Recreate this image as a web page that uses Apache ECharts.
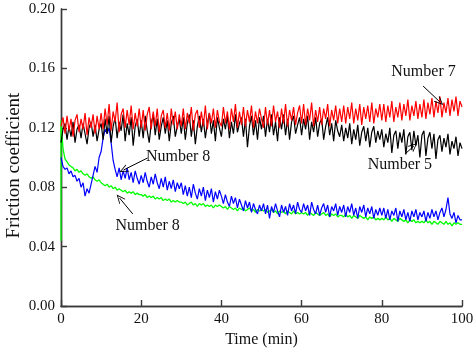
<!DOCTYPE html>
<html>
<head>
<meta charset="utf-8">
<script src="https://cdn.jsdelivr.net/npm/echarts@6/dist/echarts.min.js"></script>
<style>
html,body{margin:0;padding:0;background:#fff;}
#chart{width:474px;height:353px;}
</style>
</head>
<body>
<div id="chart"></div>
<script>
// Sampling step of the recorded curves (minutes)
const timeStep = 0.5;
const xTicks = [0, 20, 40, 60, 80, 100];
const yTicks = [0.00, 0.04, 0.08, 0.12, 0.16, 0.20];

// Number 7 (red)
const number7 = [
0.121,0.127,0.116,0.128,0.118,0.126,0.114,0.125,0.129,0.117,0.126,0.119,0.130,0.115,0.127,0.120,0.129,0.116,0.128,0.119,
0.130,0.119,0.133,0.122,0.136,0.118,0.131,0.124,0.137,0.117,0.129,0.133,0.120,0.132,0.122,0.135,0.119,0.130,0.121,0.133,
0.120,0.132,0.118,0.129,0.134,0.119,0.131,0.121,0.133,0.117,0.128,0.132,0.120,0.130,0.118,0.133,0.122,0.131,0.119,0.129,
0.121,0.133,0.119,0.130,0.123,0.134,0.118,0.129,0.132,0.120,0.131,0.121,0.135,0.119,0.130,0.123,0.133,0.120,0.132,0.124,
0.121,0.134,0.123,0.131,0.119,0.133,0.124,0.136,0.120,0.131,0.122,0.134,0.121,0.132,0.124,0.135,0.120,0.131,0.123,0.133,
0.126,0.120,0.134,0.122,0.132,0.121,0.135,0.124,0.131,0.120,0.133,0.123,0.136,0.121,0.132,0.125,0.134,0.122,0.130,0.135,
0.123,0.136,0.122,0.133,0.125,0.137,0.121,0.132,0.124,0.134,0.122,0.133,0.126,0.136,0.121,0.132,0.125,0.135,0.123,0.133,
0.124,0.135,0.123,0.134,0.126,0.137,0.123,0.133,0.125,0.136,0.122,0.134,0.126,0.135,0.124,0.137,0.123,0.133,0.127,0.136,
0.125,0.136,0.124,0.135,0.127,0.138,0.124,0.134,0.127,0.137,0.125,0.136,0.128,0.139,0.125,0.135,0.128,0.138,0.126,0.136,
0.127,0.139,0.126,0.137,0.129,0.140,0.127,0.138,0.130,0.141,0.127,0.137,0.130,0.140,0.128,0.139,0.131,0.141,0.128,0.138,
0.134];

// Number 5 (black)
const number5 = [
0.110,0.119,0.123,0.112,0.121,0.114,0.124,0.110,0.119,0.122,0.113,0.123,0.116,0.109,0.120,0.124,0.114,0.122,0.111,0.119,
0.123,0.112,0.126,0.116,0.128,0.110,0.121,0.127,0.113,0.124,0.118,0.129,0.111,0.123,0.115,0.127,0.108,0.121,0.126,0.114,
0.125,0.113,0.128,0.118,0.110,0.123,0.129,0.115,0.126,0.112,0.121,0.127,0.116,0.125,0.111,0.123,0.128,0.114,0.121,0.126,
0.116,0.127,0.112,0.123,0.129,0.114,0.125,0.109,0.121,0.128,0.117,0.126,0.113,0.123,0.130,0.116,0.125,0.111,0.127,0.120,
0.114,0.126,0.119,0.128,0.113,0.124,0.116,0.129,0.117,0.123,0.127,0.114,0.126,0.107,0.121,0.128,0.115,0.125,0.112,0.127,
0.119,0.128,0.114,0.126,0.117,0.129,0.115,0.124,0.111,0.127,0.119,0.129,0.115,0.126,0.112,0.124,0.128,0.116,0.122,0.127,
0.115,0.126,0.119,0.128,0.112,0.124,0.117,0.127,0.114,0.123,0.126,0.112,0.121,0.127,0.115,0.123,0.111,0.125,0.118,0.114,
0.122,0.111,0.120,0.113,0.123,0.109,0.119,0.112,0.122,0.108,0.117,0.121,0.111,0.120,0.107,0.117,0.121,0.110,0.118,0.112,
0.119,0.107,0.116,0.110,0.120,0.103,0.115,0.118,0.106,0.117,0.110,0.119,0.102,0.114,0.117,0.105,0.118,0.108,0.115,0.100,
0.115,0.118,0.101,0.113,0.117,0.106,0.116,0.099,0.112,0.115,0.104,0.113,0.107,0.116,0.102,0.111,0.106,0.114,0.101,0.110,
0.106];

// Number 8 (blue)
const number8Blue = [
0.100,0.094,0.092,0.093,0.089,0.091,0.087,0.088,0.084,0.086,0.080,0.083,0.074,0.079,0.076,0.082,0.088,0.094,0.090,0.100,
0.104,0.113,0.119,0.116,0.120,0.110,0.098,0.092,0.087,0.093,0.085,0.091,0.086,0.093,0.085,0.090,0.083,0.091,0.086,0.082,
0.088,0.083,0.090,0.084,0.080,0.087,0.082,0.089,0.083,0.079,0.086,0.080,0.087,0.078,0.084,0.079,0.085,0.077,0.083,0.079,
0.083,0.075,0.081,0.074,0.080,0.073,0.082,0.076,0.072,0.079,0.074,0.080,0.071,0.078,0.073,0.079,0.070,0.077,0.072,0.078,
0.074,0.069,0.075,0.070,0.067,0.074,0.069,0.073,0.066,0.072,0.068,0.064,0.071,0.066,0.070,0.063,0.069,0.065,0.062,0.068,
0.064,0.069,0.062,0.068,0.059,0.067,0.063,0.069,0.064,0.060,0.068,0.063,0.067,0.061,0.069,0.064,0.068,0.062,0.070,0.065,
0.063,0.069,0.064,0.068,0.061,0.070,0.065,0.062,0.068,0.061,0.066,0.069,0.063,0.068,0.060,0.067,0.064,0.069,0.061,0.067,
0.063,0.068,0.060,0.067,0.063,0.069,0.061,0.066,0.059,0.067,0.063,0.068,0.060,0.066,0.062,0.067,0.059,0.065,0.061,0.066,
0.061,0.066,0.059,0.065,0.058,0.064,0.061,0.066,0.057,0.064,0.060,0.065,0.058,0.063,0.057,0.064,0.060,0.065,0.058,0.063,
0.060,0.064,0.057,0.063,0.059,0.065,0.060,0.064,0.058,0.063,0.066,0.060,0.065,0.073,0.062,0.059,0.063,0.056,0.061,0.058,
0.058];

// Number 8 (green): value just before the run starts, then the curve
const number8GreenStart = [0.044];
const number8Green = [
0.125,0.106,0.099,0.097,0.095,0.094,0.093,0.091,0.092,0.090,0.091,0.089,0.088,0.089,0.087,0.086,0.087,0.085,0.084,0.085,
0.083,0.082,0.081,0.082,0.080,0.081,0.079,0.080,0.078,0.079,0.078,0.077,0.078,0.076,0.077,0.076,0.077,0.075,0.076,0.075,
0.075,0.074,0.075,0.073,0.074,0.073,0.074,0.072,0.073,0.072,0.073,0.071,0.072,0.071,0.072,0.070,0.071,0.070,0.071,0.070,
0.070,0.069,0.070,0.068,0.069,0.070,0.068,0.069,0.067,0.069,0.068,0.069,0.067,0.068,0.067,0.068,0.066,0.068,0.067,0.068,
0.067,0.066,0.067,0.065,0.067,0.066,0.065,0.066,0.064,0.066,0.065,0.066,0.064,0.065,0.066,0.064,0.065,0.063,0.065,0.064,
0.065,0.064,0.065,0.063,0.064,0.065,0.063,0.064,0.062,0.064,0.063,0.064,0.062,0.064,0.063,0.062,0.064,0.062,0.063,0.062,
0.063,0.062,0.063,0.061,0.063,0.062,0.061,0.063,0.062,0.061,0.062,0.063,0.061,0.062,0.060,0.062,0.061,0.062,0.060,0.061,
0.061,0.060,0.062,0.060,0.061,0.059,0.061,0.060,0.059,0.061,0.060,0.059,0.060,0.058,0.060,0.059,0.060,0.058,0.059,0.058,
0.059,0.058,0.060,0.058,0.059,0.057,0.059,0.058,0.057,0.059,0.058,0.057,0.058,0.056,0.058,0.057,0.058,0.056,0.057,0.056,
0.057,0.056,0.058,0.056,0.057,0.055,0.057,0.056,0.055,0.057,0.056,0.055,0.057,0.055,0.056,0.054,0.056,0.055,0.056,0.055,
0.055];

const FONT = '"Liberation Serif", "Times New Roman", serif';
const pairs = arr => arr.map((v, i) => [i * timeStep, v]);

const chevron = 'path://M0,0L6,12L4.6,12L0,2.8L-4.6,12L-6,12Z';

function arrow(from, to) {
  return {
    silent: true,
    symbol: ['none', chevron],
    symbolSize: [8, 9],
    lineStyle: { color: '#000', width: 1, type: 'solid' },
    label: { show: false },
    emphasis: { disabled: true },
    animation: false,
    data: [[{ coord: from }, { coord: to }]]
  };
}
function text(coord, str) {
  return {
    silent: true,
    animation: false,
    data: [{
      coord: coord, symbol: 'circle', symbolSize: 0,
      itemStyle: { color: 'transparent' },
      label: { show: true, position: 'inside', formatter: str, fontFamily: FONT, fontSize: 16, color: '#111' }
    }]
  };
}

const chart = echarts.init(document.getElementById('chart'), null, { renderer: 'canvas' });
const axisLineStyle = { color: '#3a3a3a', width: 1.4 };

chart.setOption({
  animation: false,
  backgroundColor: '#fff',
  grid: { left: 61, right: 12, top: 9, bottom: 47, containLabel: false, outerBoundsMode: 'none' },
  xAxis: [{
    type: 'value', min: xTicks[0], max: xTicks[xTicks.length - 1], interval: 20,
    name: 'Time (min)', nameLocation: 'middle', nameGap: 26, nameMoveOverlap: false,
    nameTextStyle: { fontFamily: FONT, fontSize: 16, color: '#111' },
    axisLine: { show: true, lineStyle: axisLineStyle },
    axisTick: { show: true, inside: true, length: 6, lineStyle: axisLineStyle },
    axisLabel: { fontFamily: FONT, fontSize: 15, color: '#111', margin: 6 },
    splitLine: { show: false }
  }, {
    type: 'value', position: 'top', min: 0, max: 100,
    axisLine: { show: true, lineStyle: axisLineStyle },
    axisTick: { show: false }, axisLabel: { show: false }, splitLine: { show: false }
  }],
  yAxis: [{
    type: 'value', min: yTicks[0], max: yTicks[yTicks.length - 1], interval: 0.04,
    name: 'Friction coefficient', nameLocation: 'middle', nameGap: 37, nameMoveOverlap: false,
    nameTextStyle: { fontFamily: FONT, fontSize: 19, color: '#111', padding: [0, 16, 0, 0] },
    axisLine: { show: true, lineStyle: axisLineStyle },
    axisTick: { show: true, inside: true, length: 6, lineStyle: axisLineStyle },
    axisLabel: { fontFamily: FONT, fontSize: 15, color: '#111', margin: 6, formatter: v => v.toFixed(2) },
    splitLine: { show: false }
  }, {
    type: 'value', position: 'right', min: 0, max: 0.2,
    axisLine: { show: true, lineStyle: axisLineStyle },
    axisTick: { show: false }, axisLabel: { show: false }, splitLine: { show: false }
  }],
  series: [{
    name: 'Number 8 green', type: 'line', showSymbol: false, sampling: 'none',
    data: [[0, number8GreenStart[0]]].concat(pairs(number8Green)),
    lineStyle: { color: '#00ff00', width: 1.3 }, itemStyle: { color: '#00ff00' },
    markLine: arrow([17.9, 0.0620], [14.6, 0.0727]),
    markPoint: text([21.6, 0.0539], 'Number 8')
  }, {
    name: 'Number 8 blue', type: 'line', showSymbol: false, sampling: 'none',
    data: pairs(number8Blue),
    lineStyle: { color: '#0000ff', width: 1.2 }, itemStyle: { color: '#0000ff' },
    markLine: arrow([21.6, 0.0997], [15.6, 0.0916]),
    markPoint: text([29.2, 0.1003], 'Number 8')
  }, {
    name: 'Number 5', type: 'line', showSymbol: false, sampling: 'none',
    data: pairs(number5),
    lineStyle: { color: '#000000', width: 1.2 }, itemStyle: { color: '#000' },
    markLine: arrow([85.8, 0.1024], [88.0, 0.1077]),
    markPoint: text([84.5, 0.0949], 'Number 5')
  }, {
    name: 'Number 7', type: 'line', showSymbol: false, sampling: 'none',
    data: pairs(number7),
    lineStyle: { color: '#ff0000', width: 1.2 }, itemStyle: { color: '#ff0000' },
    markLine: arrow([90.3, 0.1481], [94.5, 0.1374]),
    markPoint: text([90.4, 0.1576], 'Number 7')
  }]
});
</script>
</body>
</html>
